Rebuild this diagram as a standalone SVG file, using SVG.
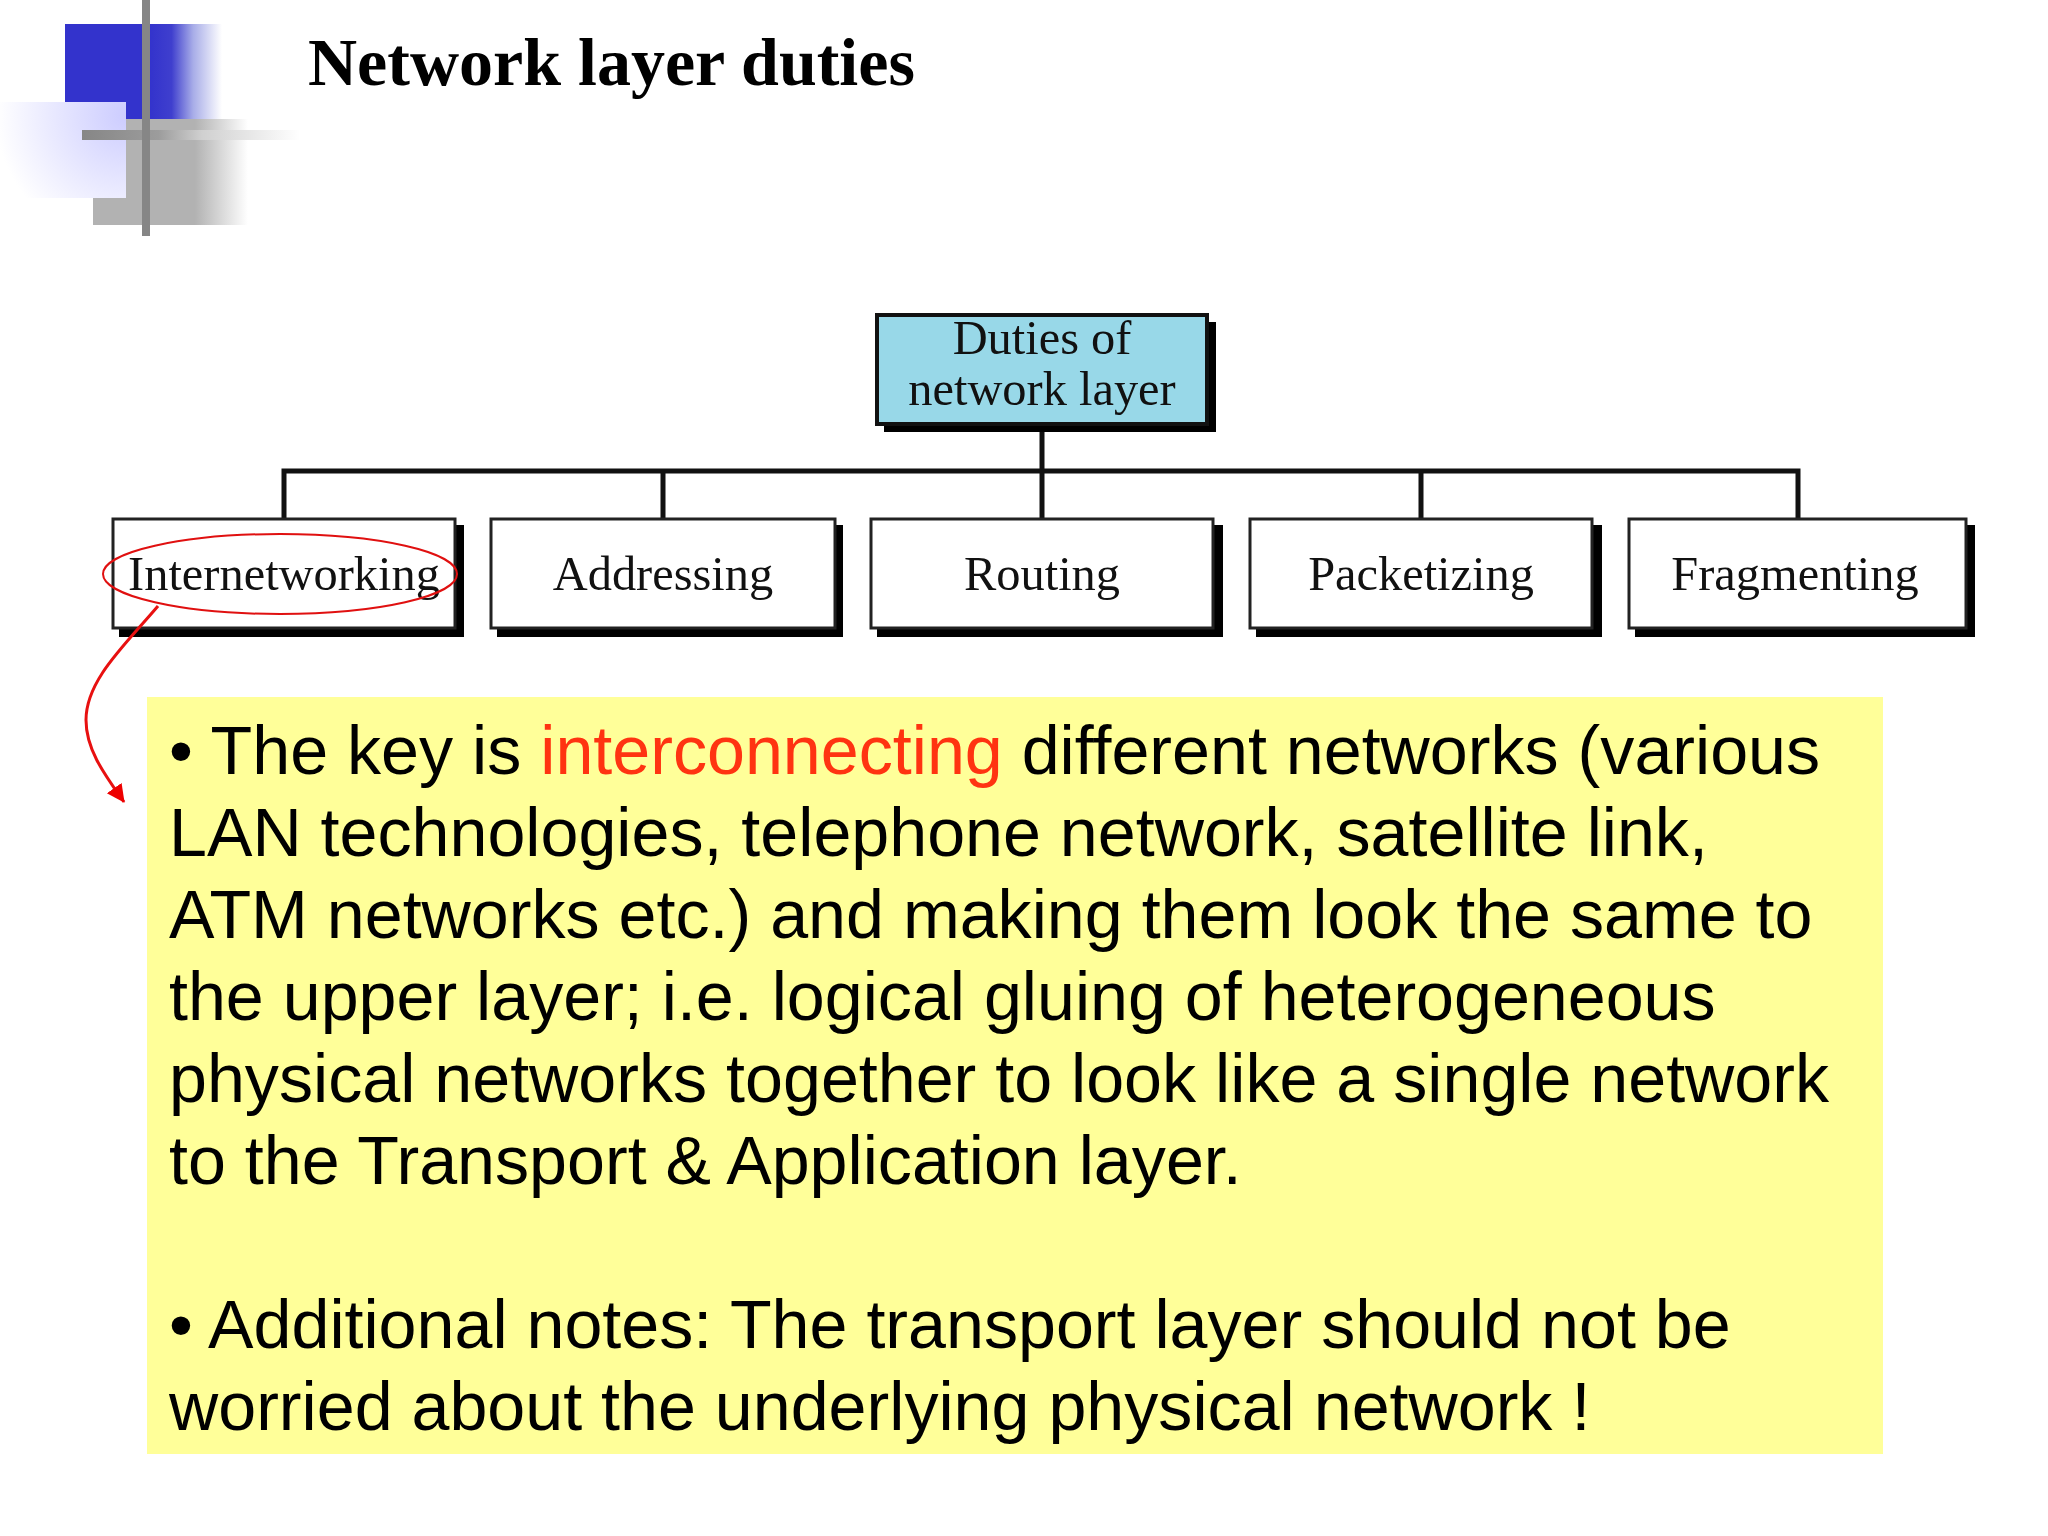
<svg xmlns="http://www.w3.org/2000/svg" width="2048" height="1536" viewBox="0 0 2048 1536">
<defs>
<linearGradient id="blue" gradientUnits="userSpaceOnUse" x1="150" y1="0" x2="222" y2="0"><stop offset="0" stop-color="#3333cc"/><stop offset="0.3" stop-color="#3f3fce"/><stop offset="0.6" stop-color="#a8ade8"/><stop offset="1" stop-color="#ffffff"/></linearGradient>
<linearGradient id="gray" gradientUnits="userSpaceOnUse" x1="195" y1="0" x2="248" y2="0"><stop offset="0" stop-color="#b2b2b2"/><stop offset="1" stop-color="#ffffff"/></linearGradient>
<linearGradient id="bar" gradientUnits="userSpaceOnUse" x1="82" y1="0" x2="300" y2="0"><stop offset="0" stop-color="#868686"/><stop offset="0.35" stop-color="#9c9c9c"/><stop offset="0.55" stop-color="#d0d0d0"/><stop offset="1" stop-color="#ffffff"/></linearGradient>
<radialGradient id="lav" gradientUnits="userSpaceOnUse" cx="126" cy="115" r="130"><stop offset="0" stop-color="#ccccff"/><stop offset="1" stop-color="#ffffff"/></radialGradient>
<marker id="ah" markerUnits="userSpaceOnUse" markerWidth="20" markerHeight="20" refX="17" refY="9" orient="auto"><path d="M0,0 L18,9 L0,18 Z" fill="#ee0000"/></marker>
<style>
.box{fill:#fff;stroke:#222;stroke-width:3}
.sh{fill:#000}
.lb{font-family:"Liberation Serif",serif;font-size:48.4px;fill:#111;text-anchor:middle}
.con{fill:none;stroke:#111;stroke-width:5}
.body{font-family:"Liberation Sans",Arial,sans-serif;font-size:68.2px;fill:#000}
</style>
</defs>
<rect width="2048" height="1536" fill="#fff"/>
<g id="logo">
<rect x="65" y="24" width="90" height="95" fill="#3333cc"/>
<rect x="150" y="24" width="72" height="95" fill="url(#blue)"/>
<rect x="126" y="119" width="70" height="106" fill="#b2b2b2"/>
<rect x="93" y="197" width="40" height="28" fill="#b2b2b2"/>
<rect x="195" y="119" width="53" height="106" fill="url(#gray)"/>
<rect x="0" y="102" width="126" height="96" fill="url(#lav)"/>
<rect x="82" y="130" width="218" height="10" fill="url(#bar)"/>
<rect x="142" y="0" width="8" height="236" fill="#868686"/>
</g>
<text id="title" x="308" y="85" font-family="'Liberation Serif',serif" font-weight="bold" font-size="68" fill="#000">Network layer duties</text>
<g id="connectors">
<path class="con" d="M1042,432V518M284,518V471H1798V518M663,471V518M1421,471V518"/>
</g>
<g id="duties"><rect class="sh" x="884" y="322" width="332" height="110"/><rect x="877" y="315" width="330" height="109" fill="#98d8e8" stroke="#111" stroke-width="4"/><text class="lb" x="1042" y="354">Duties of</text><text class="lb" x="1042" y="405">network layer</text></g>
<g id="internetworking"><rect class="sh" x="119" y="525" width="345" height="112"/><rect class="box" x="113" y="519" width="342" height="109"/><text class="lb" x="284" y="590">Internetworking</text></g>
<g id="addressing"><rect class="sh" x="497" y="525" width="346" height="112"/><rect class="box" x="491" y="519" width="344" height="109"/><text class="lb" x="663" y="590">Addressing</text></g>
<g id="routing"><rect class="sh" x="877" y="525" width="346" height="112"/><rect class="box" x="871" y="519" width="342" height="109"/><text class="lb" x="1042" y="590">Routing</text></g>
<g id="packetizing"><rect class="sh" x="1256" y="525" width="346" height="112"/><rect class="box" x="1250" y="519" width="342" height="109"/><text class="lb" x="1421" y="590">Packetizing</text></g>
<g id="fragmenting"><rect class="sh" x="1635" y="525" width="340" height="112"/><rect class="box" x="1629" y="519" width="337" height="109"/><text class="lb" x="1795" y="590">Fragmenting</text></g>
<g id="callout-arrow">
<ellipse cx="280" cy="574" rx="177" ry="40" fill="none" stroke="#e01010" stroke-width="2"/>
<path d="M158,606 C125,645 86,680 86,720 C86,750 105,775 124,802" fill="none" stroke="#e81010" stroke-width="3" marker-end="url(#ah)"/>
</g>
<g id="note">
<rect x="147" y="697" width="1736" height="757" fill="#ffff99"/>
<text class="body" x="169" y="774">• The key is <tspan fill="#ff3311">interconnecting</tspan> different networks (various</text>
<text class="body" x="169" y="856">LAN technologies, telephone network, satellite link,</text>
<text class="body" x="169" y="938">ATM networks etc.) and making them look the same to</text>
<text class="body" x="169" y="1020">the upper layer; i.e. logical gluing of heterogeneous</text>
<text class="body" x="169" y="1102">physical networks together to look like a single network</text>
<text class="body" x="169" y="1184">to the Transport &amp; Application layer.</text>
<text class="body" x="169" y="1348">• Additional notes: The transport layer should not be</text>
<text class="body" x="169" y="1430">worried about the underlying physical network !</text>
</g>
</svg>
